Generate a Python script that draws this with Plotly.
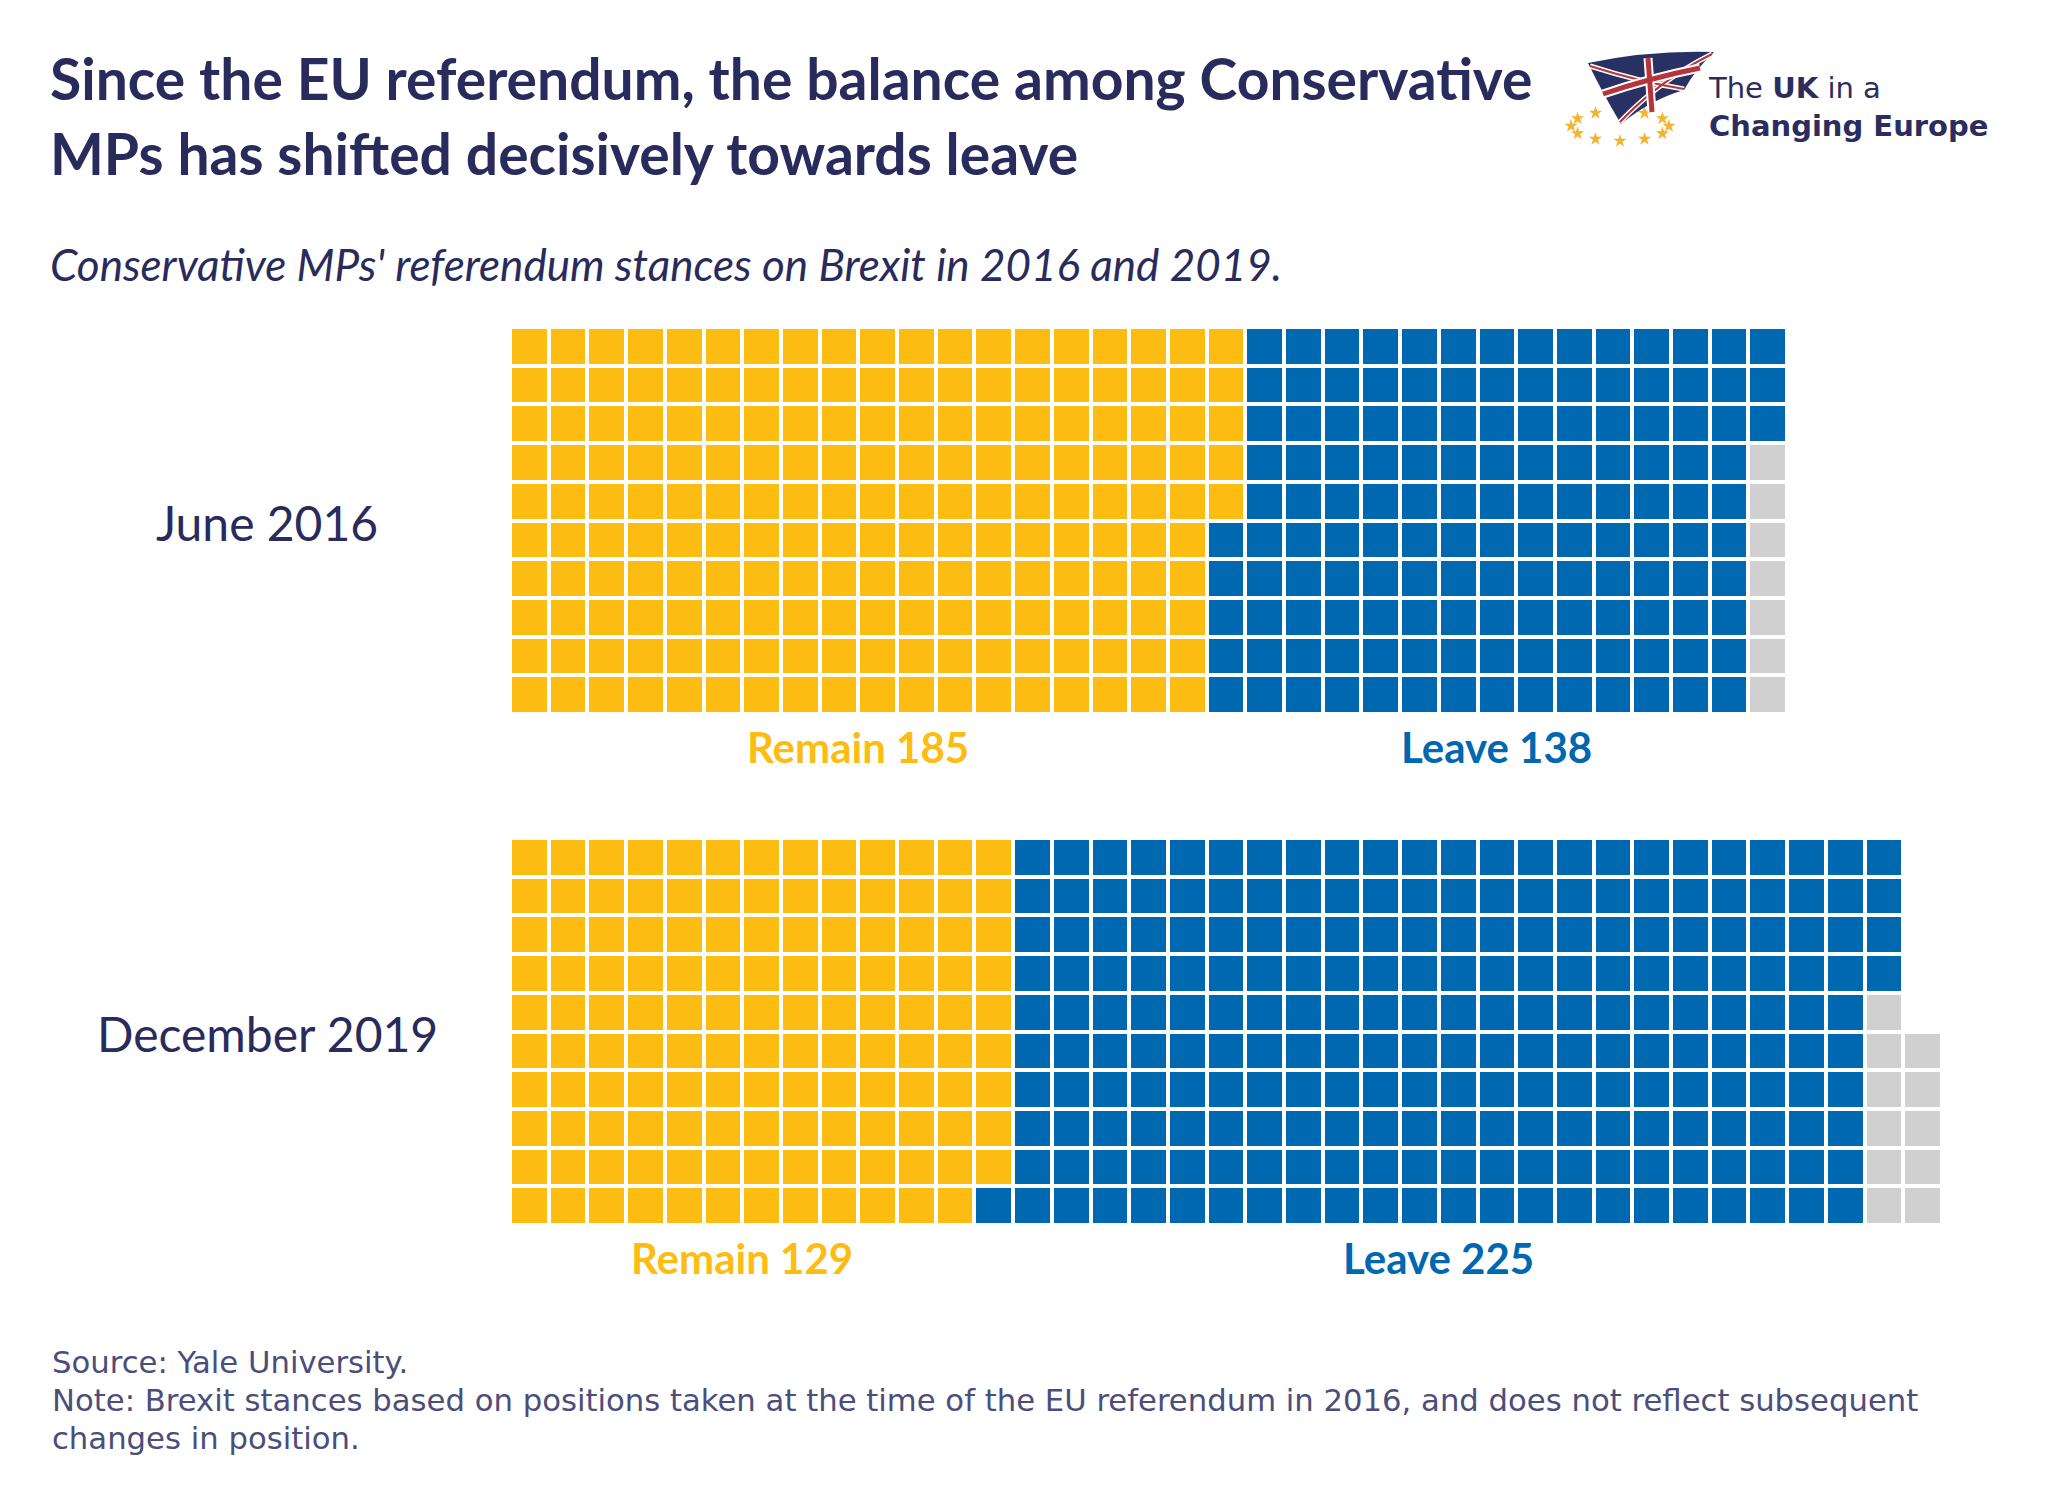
import math
import numpy as np
import plotly.graph_objects as go

# ---------------- data ----------------
periods = ["June 2016", "December 2019"]
remain = [185, 129]
leave = [138, 225]
other = [7, 11]
rows_per_col = 10

YELLOW = "#FDBC12"
BLUE = "#0067B1"
GREY = "#D0D0D1"
NAVY = "#282B5C"
FOOT = "#4B4E7A"

W, H = 2048, 1510
PITCH = 38.7
LEFT = 510
TOPS = [327, 838]


def build_grid(r, l, o):
    total = r + l + o
    ncols = math.ceil(total / rows_per_col)
    z = np.full((rows_per_col, ncols), np.nan)
    seq = [0] * r + [1] * l + [2] * o
    for i, v in enumerate(seq):
        c, rr = divmod(i, rows_per_col)
        z[rr, c] = v
    # last partial column aligned to bottom
    rem = total % rows_per_col
    if rem:
        col = z[:, -1].copy()
        vals = col[~np.isnan(col)]
        z[:, -1] = np.nan
        z[rows_per_col - len(vals):, -1] = vals
    return z, ncols


fig = go.Figure()
annotations = []
cs = [[0, YELLOW], [1 / 3, YELLOW], [1 / 3, BLUE], [2 / 3, BLUE], [2 / 3, GREY], [1, GREY]]


def pap(x, y, text, size, color, family="Lato", xanchor="left"):
    return dict(x=x / W, y=1 - y / H, xref="paper", yref="paper", text=text,
                showarrow=False, font=dict(family=family, size=size, color=color),
                xanchor=xanchor, yanchor="middle")


for k, (p, r, l, o) in enumerate(zip(periods, remain, leave, other)):
    z, ncols = build_grid(r, l, o)
    xa = "x" if k == 0 else f"x{k+1}"
    ya = "y" if k == 0 else f"y{k+1}"
    fig.add_trace(go.Heatmap(
        z=z, x=list(range(ncols)), y=list(range(rows_per_col)),
        colorscale=cs, zmin=0, zmax=2, showscale=False,
        xgap=4, ygap=4, hoverinfo="skip", xaxis=xa, yaxis=ya))
    x0 = LEFT / W
    x1 = (LEFT + ncols * PITCH) / W
    top = TOPS[k]
    bot = top + rows_per_col * PITCH
    axx = dict(domain=[x0, x1], range=[-0.5, ncols - 0.5], visible=False,
               showgrid=False, zeroline=False, fixedrange=True)
    axy = dict(domain=[1 - bot / H, 1 - top / H], range=[rows_per_col - 0.5, -0.5],
               visible=False, showgrid=False, zeroline=False, fixedrange=True)
    if k == 0:
        fig.update_layout(xaxis=axx, yaxis=dict(axy, anchor="x"))
    else:
        axx["anchor"] = ya
        axy["anchor"] = xa
        fig.update_layout(**{f"xaxis{k+1}": axx, f"yaxis{k+1}": axy})

    # label centres: middle of fully-filled columns of each category
    r_full = r // rows_per_col
    r_center = (r_full - 1) / 2
    l_start = math.ceil(r / rows_per_col)
    l_end = (r + l) // rows_per_col  # exclusive
    l_center = (l_start + l_end - 1) / 2
    ylab = bot + 33
    annotations.append(pap(LEFT + (r_center + 0.5) * PITCH, ylab, f"<b>Remain {r}</b>",
                           42, YELLOW, xanchor="center"))
    annotations.append(pap(LEFT + (l_center + 0.5) * PITCH, ylab, f"<b>Leave {l}</b>",
                           42, BLUE, xanchor="center"))
    annotations.append(pap(267, top + rows_per_col * PITCH / 2 + 2, p, 48, NAVY,
                           xanchor="center"))


annotations += [
    pap(48, 78, "<b>Since the EU referendum, the balance among Conservative</b>", 57, NAVY),
    pap(48, 153, "<b>MPs has shifted decisively towards leave</b>", 57, NAVY),
    pap(48, 264, "<i>Conservative MPs' referendum stances on Brexit in 2016 and 2019.</i>", 44, NAVY),
    pap(50, 1362, "Source: Yale University.", 30.7, FOOT, "DejaVu Sans"),
    pap(50, 1400, "Note: Brexit stances based on positions taken at the time of the EU referendum in 2016, and does not reflect subsequent", 30.7, FOOT, "DejaVu Sans"),
    pap(50, 1438, "changes in position.", 30.7, FOOT, "DejaVu Sans"),
    dict(x=1706 / W, y=1 - 107 / H, xref="paper", yref="paper",
         text="The <b>UK</b> in a<br><b>Changing Europe</b>", showarrow=False, align="left",
         font=dict(family="DejaVu Sans", size=29, color="#2B2D5F"),
         xanchor="left", yanchor="middle"),
]

# ---- logo (decorative) on a pixel-coordinate overlay axis ----
star_angles = [a for a in range(0, 360, 30) if a != 90]
sx = [1620 + 49 * math.cos(math.radians(a)) for a in star_angles]
sy = [126 - 15 * math.sin(math.radians(a)) for a in star_angles]
fig.add_trace(go.Scatter(x=sx, y=sy, mode="markers", xaxis="x3", yaxis="y3",
                         marker=dict(symbol="star", size=10, color="#F2B431"),
                         hoverinfo="skip", showlegend=False))
fig.update_layout(
    xaxis3=dict(domain=[0, 1], range=[0, W], visible=False, fixedrange=True, anchor="y3"),
    yaxis3=dict(domain=[0, 1], range=[H, 0], visible=False, fixedrange=True, anchor="x3"),
)
shapes = [
    dict(type="path", xref="x3", yref="y3",
         path="M1588,63 Q1650,50 1714,52 Q1695,70 1684,90 Q1650,100 1621,124 Q1602,92 1588,63 Z",
         fillcolor="#283163", line=dict(width=0)),
    dict(type="path", xref="x3", yref="y3", path="M1590,66 Q1640,82 1684,89",
         line=dict(color="white", width=5)),
    dict(type="path", xref="x3", yref="y3", path="M1620,122 Q1660,80 1712,54",
         line=dict(color="white", width=5)),
    dict(type="path", xref="x3", yref="y3", path="M1590,66 Q1640,82 1684,89",
         line=dict(color="#B8343B", width=2)),
    dict(type="path", xref="x3", yref="y3", path="M1620,122 Q1660,80 1712,54",
         line=dict(color="#B8343B", width=2)),
    dict(type="path", xref="x3", yref="y3", path="M1603,94 Q1650,78 1700,68",
         line=dict(color="white", width=9)),
    dict(type="path", xref="x3", yref="y3", path="M1648,58 Q1650,85 1652,112",
         line=dict(color="white", width=9)),
    dict(type="path", xref="x3", yref="y3", path="M1603,94 Q1650,78 1700,68",
         line=dict(color="#B8343B", width=5)),
    dict(type="path", xref="x3", yref="y3", path="M1648,58 Q1650,85 1652,112",
         line=dict(color="#B8343B", width=5)),
]

fig.update_layout(
    width=W, height=H, margin=dict(l=0, r=0, t=0, b=0),
    paper_bgcolor="white", plot_bgcolor="rgba(0,0,0,0)",
    showlegend=False, annotations=annotations, shapes=shapes,
)

fig.write_html("out.html", config={"displayModeBar": False})
